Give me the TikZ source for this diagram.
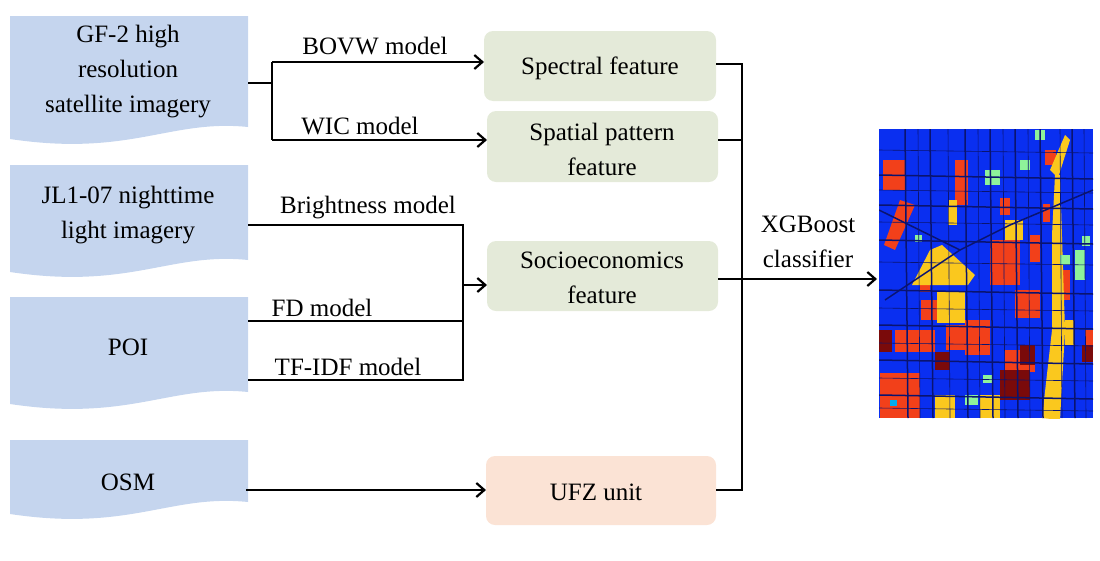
\documentclass[tikz,border=0pt]{standalone}
\usepackage{fontspec}
\setmainfont{Liberation Serif}
\usetikzlibrary{arrows.meta}
\definecolor{docb}{HTML}{C5D5EE}
\definecolor{featg}{HTML}{E4EAD9}
\definecolor{ufzp}{HTML}{FBE3D5}
\definecolor{mb}{HTML}{0A2FF0}
\definecolor{mr}{HTML}{F2401A}
\definecolor{my}{HTML}{FAC81E}
\definecolor{mg}{HTML}{8EF29A}
\definecolor{md}{HTML}{7A0A0A}
\definecolor{mn}{HTML}{0A1470}
\begin{document}
\begin{tikzpicture}[x=1pt,y=-1pt,font=\fontsize{25}{35}\selectfont,
  line/.style={line width=2.2pt,black},
  arr/.style={line width=2.2pt,-{Straight Barb[length=8pt,width=14pt,line width=2.2pt]}},
  feat/.style={rounded corners=9pt,fill=featg,draw=none,align=center},
  lbl/.style={inner sep=0pt,align=center}]
\useasboundingbox (0,0) rectangle (1100,560);
% documents
\newcommand{\docshape}[2]{\fill[docb] (10,#1) -- (248,#1) -- (248,#2-18) .. controls (170,#2-26) and (130,#2+12) .. (10,#2-6) -- cycle;}
\docshape{16}{145}
\docshape{165}{278}
\docshape{297}{410}
\docshape{440}{520}
\node[lbl] (gf) at (128,72) {GF-2 high\\resolution\\satellite imagery};
\node[lbl] (jl) at (128,215) {JL1-07 nighttime\\light imagery};
\node[lbl] (poi) at (128,347) {POI};
\node[lbl] (osm) at (128,482) {OSM};
\coordinate (gfo) at (248,83);
\coordinate (jlo) at (248,225);
\coordinate (fdo) at (248,321);
\coordinate (tfo) at (248,380);
\coordinate (osmo) at (246,490);
% features
\path[feat] (484,31) rectangle (716,101); \node (spec) at (600,68) {Spectral feature};
\path[feat] (487,111) rectangle (718,182); \node[align=center] (spat) at (602,149) {Spatial pattern\\feature};
\path[feat] (487,241) rectangle (718,311); \node[align=center] (soc) at (602,278) {Socioeconomics\\feature};
\path[rounded corners=9pt,fill=ufzp] (486,456) rectangle (716,525); \node (ufz) at (596,492) {UFZ unit};
% left connectors
\coordinate (sp) at (272,83);
\draw[line] (gfo) -- (sp);
\draw[arr] (272,62) -- (484,62);
\draw[line] (272,62) -- (272,140);
\draw[arr] (272,140) -- (487,140);
\node[lbl] (bovw) at (375,46) {BOVW model};
\node[lbl] (wic) at (360,126) {WIC model};
\draw[line] (jlo) -- (463,225) -- (463,381);
\draw[line] (fdo) -- (463,321);
\draw[line] (tfo) -- (463,380);
\draw[arr] (462,285) -- (487,285);
\node[lbl] (br) at (368,208) {Brightness model};
\node[lbl] (fd) at (322,308) {FD model};
\node[lbl] (tf) at (348,367) {TF-IDF model};
\draw[arr] (osmo) -- (486,490);
% right bus
\draw[line] (716,64) -- (742,64) -- (742,490) -- (716,490);
\draw[line] (718,140) -- (742,140);
\draw[line] (718,279) -- (742,279);
\draw[arr] (742,279) -- (877,279);
\node[lbl] (xgb) at (808,242) {XGBoost\\classifier};
% map
\begin{scope}
\clip (879,129) rectangle (1093,418);
\fill[mb] (879,129) rectangle (1093,418);
\fill[mr] (955,160) rectangle (968,205);
\fill[mr] (883,160) rectangle (905,190);
\fill[mr] (1045,150) rectangle (1056,165);
\fill[mr] (990,240) rectangle (1020,285);
\fill[mr] (1015,290) rectangle (1040,318);
\fill[mr] (921,300) rectangle (938,320);
\fill[mr] (946,325) rectangle (965,350);
\fill[mr] (895,330) rectangle (935,352);
\fill[mr] (965,320) rectangle (990,355);
\fill[mr] (1005,350) rectangle (1035,372);
\fill[mr] (880,373) rectangle (920,418);
\fill[mr] (1030,235) rectangle (1040,262);
\fill[mr] (1000,198) rectangle (1010,215);
\fill[mr] (1085,330) rectangle (1093,350);
\fill[mr] (1060,270) rectangle (1070,300);
\fill[mr] (1043,204) rectangle (1050,222);
\fill[mr] (920,275) rectangle (930,292);
\fill[mr] (900,200) -- (915,205) -- (895,250) -- (884,245) -- cycle;
\fill[md] (879,330) rectangle (892,352);
\fill[md] (1000,370) rectangle (1030,400);
\fill[md] (1020,345) rectangle (1035,365);
\fill[md] (1082,345) rectangle (1093,362);
\fill[md] (935,352) rectangle (950,370);
\fill[my] (930,250) -- (942,245) -- (975,275) -- (968,285) -- (912,285) -- cycle;
\fill[my] (937,292) rectangle (965,323);
\fill[my] (1005,220) rectangle (1023,240);
\fill[my] (1055,175) -- (1060,175) -- (1065,330) -- (1060,420) -- (1042,418) -- (1052,330) -- (1052,235) -- cycle;
\fill[my] (1050,170) -- (1065,135) -- (1070,140) -- (1058,178) -- cycle;
\fill[my] (935,395) rectangle (955,418);
\fill[my] (980,395) rectangle (1000,418);
\fill[my] (1065,320) rectangle (1075,345);
\fill[my] (948,200) rectangle (957,225);
\fill[mg] (985,170) rectangle (1000,185);
\fill[mg] (1020,160) rectangle (1030,170);
\fill[mg] (1075,250) rectangle (1085,280);
\fill[mg] (1060,255) rectangle (1070,265);
\fill[mg] (915,235) rectangle (922,242);
\fill[mg] (965,395) rectangle (978,405);
\fill[mg] (1035,130) rectangle (1045,140);
\fill[mg] (1082,236) rectangle (1090,246);
\fill[mg] (983,375) rectangle (993,383);
\fill[cyan] (890,400) rectangle (897,406);
\foreach \y in {175,205,240,290,325,360,395} \draw[mn,line width=1.5pt] (879,\y) -- (1093,\y+4);
\foreach \x in {905,930,965,990,1015,1040,1072} \draw[mn,line width=1.5pt] (\x,129) -- (\x+3,418);
\foreach \y in {150,190,222,262,308,343,378,408} \draw[mn,line width=0.6pt] (879,\y) -- (1093,\y+3);
\foreach \x in {918,948,978,1003,1028,1060,1084} \draw[mn,line width=0.6pt] (\x,129) -- (\x+2,418);
\draw[mn,line width=1.5pt] (879,210) -- (960,250) -- (1010,225) -- (1093,190);
\draw[mn,line width=1.5pt] (885,300) -- (960,250);
\end{scope}
\end{tikzpicture}
\end{document}
